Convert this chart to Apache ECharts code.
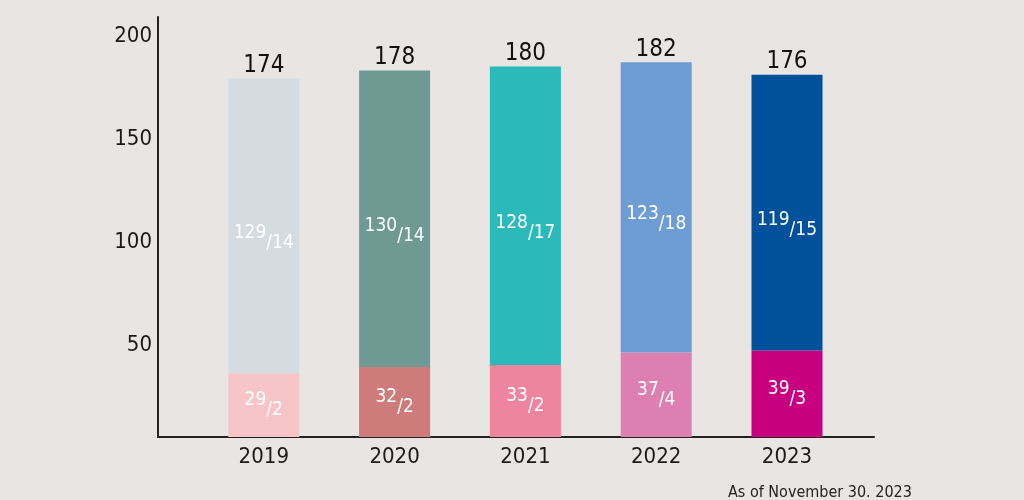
<!DOCTYPE html>
<html>
<head>
<meta charset="utf-8">
<script src="https://cdn.jsdelivr.net/npm/echarts@6/dist/echarts.min.js"></script>
<style>
  html, body { margin: 0; padding: 0; background: #e9e5e2; }
  #main { width: 1024px; height: 500px; }
</style>
</head>
<body>
<div id="main"></div>
<script>
var years = ['2019', '2020', '2021', '2022', '2023'];
var lowMain = [29, 32, 33, 37, 39];
var lowSub = [2, 2, 2, 4, 3];
var highMain = [129, 130, 128, 123, 119];
var highSub = [14, 14, 17, 18, 15];
var totals = [174, 178, 180, 182, 176];
var yTicks = [50, 100, 150, 200];

var lowColors = ['#f7c5c7', '#cd7b7b', '#ee849e', '#dd80b1', '#c8007f'];
var highColors = ['#d4dce2', '#6f9a94', '#2bbab9', '#6d9dd2', '#00519b'];

var font = '"DejaVu Sans Condensed", "Liberation Sans Narrow", sans-serif';

var dom = document.getElementById('main');
var chart = echarts.init(dom);

var innerRich = {
    a: { fontFamily: font, fontSize: 19, color: '#fff', lineHeight: 20, verticalAlign: 'top' },
    b: { fontFamily: font, fontSize: 19, color: '#fff', lineHeight: 29, verticalAlign: 'bottom' }
};

var option = {
    backgroundColor: '#e9e5e2',
    animation: false,
    title: {
        text: 'As of November 30. 2023',
        left: 723,
        top: 480,
        textStyle: { fontFamily: font, fontSize: 16, fontWeight: 'normal', color: '#222' }
    },
    grid: [
        { left: 198.4, right: 171.6, top: 17, bottom: 63 },
        { left: 158, right: 150, top: 17, bottom: 63 }
    ],
    xAxis: [
        {
            type: 'category',
            gridIndex: 0,
            data: years,
            axisTick: { show: false },
            axisLine: { show: false },
            axisLabel: { fontFamily: font, fontSize: 22, color: '#1a1a1a', margin: 9 }
        },
        {
            type: 'value',
            gridIndex: 1,
            min: 0,
            max: 1,
            splitLine: { show: false },
            axisTick: { show: false },
            axisLabel: { show: false },
            axisLine: { show: true, lineStyle: { color: '#222', width: 2 } }
        }
    ],
    yAxis: [
        {
            type: 'value',
            gridIndex: 0,
            min: 0,
            max: 204,
            offset: 40.4,
            splitLine: { show: false },
            axisTick: { show: false },
            axisLine: { show: true, lineStyle: { color: '#222', width: 2 } },
            axisLabel: {
                customValues: yTicks,
                fontFamily: font, fontSize: 22, color: '#1a1a1a', margin: 6,
                verticalAlign: 'top'
            }
        },
        {
            type: 'value',
            gridIndex: 1,
            min: 0,
            max: 1,
            show: false
        }
    ],
    series: [
        {
            name: 'low',
            type: 'bar',
            stack: 'all',
            barWidth: 71,
            data: lowMain.map(function (v, i) { return v + lowSub[i]; }),
            itemStyle: { color: function (p) { return lowColors[p.dataIndex]; } },
            label: {
                show: true,
                position: 'inside',
                formatter: function (p) {
                    return '{a|' + lowMain[p.dataIndex] + '}{b|/' + lowSub[p.dataIndex] + '}';
                },
                rich: innerRich
            }
        },
        {
            name: 'high',
            type: 'bar',
            stack: 'all',
            barWidth: 71,
            data: highMain.map(function (v, i) { return v + highSub[i]; }),
            itemStyle: { color: function (p) { return highColors[p.dataIndex]; } },
            label: {
                show: true,
                position: 'inside',
                offset: [0, 12],
                formatter: function (p) {
                    return '{a|' + highMain[p.dataIndex] + '}{b|/' + highSub[p.dataIndex] + '}';
                },
                rich: innerRich
            }
        },
        {
            name: 'total',
            type: 'scatter',
            symbolSize: 0,
            itemStyle: { opacity: 1 },
            data: totals,
            label: {
                show: true,
                position: 'top',
                distance: 1,
                formatter: function (p) { return String(totals[p.dataIndex]); },
                fontFamily: font, fontSize: 24, color: '#111'
            }
        }
    ]
};

chart.setOption(option, true);
</script>
</body>
</html>
